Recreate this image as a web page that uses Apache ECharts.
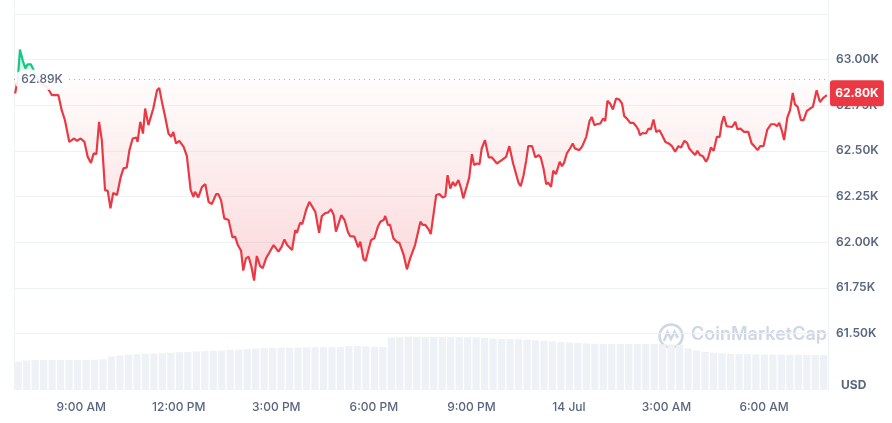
<!DOCTYPE html>
<html>
<head>
<meta charset="utf-8">
<title>BTC price 24h</title>
<script src="https://cdn.jsdelivr.net/npm/echarts@6/dist/echarts.min.js"></script>
<style>
  html, body { margin: 0; padding: 0; background: #fff; }
  #chart { width: 892px; height: 423px; }
</style>
</head>
<body>
<div id="chart"></div>
<script>
// minutes relative to 9:00 AM, 13 Jul
const priceMinutes = [
  -122, -117, -113, -108, -103, -99, -93, -88, -82, -74, -63, -54, -42, -36, -30, -22, -13, -8, -1, 6,
  12, 18, 23, 28, 33, 38, 44, 49, 54, 59, 66, 73, 78, 84, 89, 95, 102, 104, 109, 114,
  118, 124, 133, 140, 144, 149, 155, 161, 166, 170, 175, 181, 189, 195, 202, 207, 210, 216, 223, 229,
  235, 241, 249, 253, 258, 264, 272, 275, 279, 284, 289, 295, 299, 304, 309, 314, 319, 324, 330, 335,
  341, 347, 355, 364, 370, 375, 380, 389, 395, 398, 404, 408, 415, 421, 424, 432, 435, 439, 444, 450,
  456, 461, 466, 470, 480, 486, 492, 496, 504, 511, 515, 521, 525, 530, 535, 541, 547, 552, 558, 561,
  566, 570, 576, 583, 587, 595, 601, 607, 616, 626, 630, 635, 641, 645, 655, 661, 667, 672, 676, 681,
  686, 690, 696, 701, 705, 712, 716, 721, 725, 730, 735, 739, 745, 752, 758, 767, 776, 784, 787, 790,
  797, 803, 807, 811, 816, 821, 825, 832, 838, 844, 848, 853, 858, 862, 867, 871, 876, 883, 887, 891,
  896, 902, 907, 911, 919, 924, 932, 938, 942, 947, 951, 958, 963, 967, 971, 976, 981, 987, 993, 998,
  1002, 1007, 1013, 1019, 1024, 1028, 1031, 1036, 1042, 1047, 1051, 1056, 1061, 1067, 1071, 1078, 1084, 1090, 1096, 1102,
  1107, 1113, 1118, 1122, 1129, 1133, 1137, 1142, 1147, 1153, 1157, 1162, 1167, 1173, 1178, 1182, 1186, 1191, 1201, 1207,
  1211, 1216, 1223, 1231, 1237, 1242, 1248, 1253, 1259, 1266, 1273, 1279, 1284, 1288, 1293, 1297, 1303, 1308, 1313, 1317,
  1322, 1328, 1333, 1339, 1345, 1350, 1357, 1363, 1370, 1376
];

// BTC price in thousand USD
const priceValues = [
  62.814, 62.891, 63.055, 62.996, 62.952, 62.974, 62.974, 62.945, 62.891, 62.870, 62.850, 62.805, 62.805, 62.723, 62.668, 62.549, 62.568, 62.555, 62.568, 62.549,
  62.467, 62.434, 62.486, 62.482, 62.659, 62.559, 62.285, 62.281, 62.185, 62.270, 62.258, 62.358, 62.404, 62.409, 62.504, 62.568, 62.573, 62.549, 62.659, 62.595,
  62.732, 62.641, 62.732, 62.832, 62.845, 62.768, 62.686, 62.595, 62.577, 62.604, 62.541, 62.555, 62.522, 62.471, 62.285, 62.248, 62.276, 62.245, 62.303, 62.318,
  62.221, 62.208, 62.263, 62.263, 62.230, 62.130, 62.121, 62.112, 62.026, 62.030, 61.984, 61.953, 61.844, 61.911, 61.920, 61.866, 61.789, 61.924, 61.869, 61.857,
  61.911, 61.942, 61.984, 61.948, 61.975, 62.015, 61.984, 61.957, 62.066, 62.051, 62.106, 62.099, 62.176, 62.221, 62.230, 62.166, 62.158, 62.051, 62.143, 62.158,
  62.163, 62.180, 62.148, 62.057, 62.148, 62.121, 62.057, 62.033, 62.030, 61.972, 62.002, 61.906, 61.898, 61.957, 62.012, 62.021, 62.081, 62.112, 62.121, 62.143,
  62.094, 62.094, 62.021, 61.999, 61.997, 61.930, 61.851, 61.911, 61.984, 62.112, 62.094, 62.094, 62.070, 62.044, 62.258, 62.263, 62.245, 62.252, 62.367, 62.294,
  62.330, 62.307, 62.340, 62.294, 62.240, 62.312, 62.355, 62.482, 62.422, 62.431, 62.427, 62.513, 62.559, 62.464, 62.464, 62.431, 62.449, 62.467, 62.477, 62.526,
  62.431, 62.367, 62.325, 62.307, 62.362, 62.445, 62.526, 62.526, 62.464, 62.477, 62.464, 62.404, 62.318, 62.325, 62.303, 62.391, 62.373, 62.440, 62.416, 62.434,
  62.486, 62.513, 62.541, 62.513, 62.504, 62.522, 62.577, 62.664, 62.686, 62.641, 62.646, 62.650, 62.677, 62.664, 62.774, 62.759, 62.727, 62.787, 62.781, 62.759,
  62.690, 62.677, 62.653, 62.653, 62.635, 62.617, 62.586, 62.598, 62.595, 62.623, 62.617, 62.672, 62.604, 62.613, 62.591, 62.549, 62.541, 62.526, 62.495, 62.526,
  62.519, 62.555, 62.544, 62.513, 62.489, 62.477, 62.500, 62.477, 62.471, 62.440, 62.464, 62.519, 62.500, 62.577, 62.577, 62.653, 62.690, 62.635, 62.631, 62.659,
  62.617, 62.623, 62.604, 62.604, 62.541, 62.526, 62.504, 62.526, 62.526, 62.617, 62.646, 62.646, 62.635, 62.653, 62.609, 62.559, 62.683, 62.723, 62.817, 62.755,
  62.741, 62.668, 62.668, 62.719, 62.732, 62.741, 62.832, 62.768, 62.792, 62.805
];

// 24h volume, relative units (one bar per 15 min)
const volumeValues = [
  28.3, 29.5, 30, 30, 30, 30, 30, 30, 30, 30.2, 30.7, 33.5, 34.5, 35.3, 35.7, 36.2, 36.5, 36.8, 37.2, 37.7,
  38, 38.5, 38.9, 39.2, 39.5, 40, 40.5, 41, 41.5, 42, 42.2, 42.3, 42.4, 42.5, 42.6, 42.7, 42.7, 42.8, 43, 43.8,
  43.8, 43.6, 43, 43, 52.5, 52.7, 53.3, 53.2, 53, 53, 53, 52.8, 52.8, 52.7, 52.6, 52, 51.2, 51, 51, 50.8,
  50.3, 49.7, 49.2, 48.6, 48, 47.5, 47, 46.5, 46.2, 46, 46, 46, 46, 46, 46, 46, 45.8, 45.6, 45.2, 41.5,
  39.5, 38, 37.2, 36.6, 36.2, 36, 35.8, 35.6, 35.5, 35.4, 35.3, 35.2, 35.1, 35, 35, 35
];

const openPrice = 62.89;
const xTickMinutes = [0, 180, 360, 540, 720, 900, 1080, 1260];
const xTickLabels = ['9:00 AM', '12:00 PM', '3:00 PM', '6:00 PM', '9:00 PM', '14 Jul', '3:00 AM', '6:00 AM'];

const RED = '#ea3943';
const GREEN = '#16c784';
const GREY = '#58667e';
const GRID_LINE = '#eff2f5';

const chart = echarts.init(document.getElementById('chart'));

// green above the opening price, red below: split the gradients at that level
const hi = Math.max(...priceValues);
const lo = Math.min(...priceValues);
const split = (hi - openPrice) / (hi - lo);
const last = priceValues[priceValues.length - 1];

chart.setOption({
  animation: false,
  textStyle: { fontFamily: 'Inter, Roboto, sans-serif' },
  grid: [
    { left: 14, right: 64, top: 14, bottom: 44 },
    { left: 14, right: 64, top: 330, bottom: 33 }
  ],
  xAxis: [
    {
      gridIndex: 0,
      type: 'value',
      min: -124,
      max: 1378,
      axisLine: { show: false },
      axisTick: { show: false },
      splitLine: { show: false },
      axisLabel: {
        customValues: xTickMinutes,
        margin: 22,
        color: GREY,
        fontSize: 12,
        fontWeight: 500,
        formatter: v => xTickLabels[xTickMinutes.indexOf(v)] || ''
      }
    },
    {
      gridIndex: 1,
      type: 'category',
      data: volumeValues.map((_, i) => i),
      show: false
    }
  ],
  yAxis: [
    {
      gridIndex: 0,
      type: 'value',
      position: 'right',
      min: 61.25,
      max: 63.25,
      interval: 0.25,
      axisLine: { show: false },
      axisTick: { show: false },
      splitLine: { showMinLine: false, lineStyle: { color: GRID_LINE, width: 1 } },
      axisLabel: {
        margin: 8,
        color: GREY,
        fontSize: 12,
        fontWeight: 600,
        formatter: v => (v <= 61.25 || v >= 63.25) ? '' : v.toFixed(2) + 'K'
      }
    },
    {
      gridIndex: 1,
      type: 'value',
      min: 0,
      max: 60,
      show: false
    }
  ],
  series: [
    {
      type: 'bar',
      xAxisIndex: 1,
      yAxisIndex: 1,
      data: volumeValues,
      barCategoryGap: '15%',
      itemStyle: { color: '#eef1f5' },
      silent: true
    },
    {
      type: 'line',
      xAxisIndex: 0,
      yAxisIndex: 0,
      data: priceMinutes.map((m, i) => [m, priceValues[i]]),
      showSymbol: false,
      z: 3,
      lineStyle: {
        width: 2.2,
        color: new echarts.graphic.LinearGradient(0, 0, 0, 1, [
          { offset: 0, color: GREEN },
          { offset: split, color: GREEN },
          { offset: split, color: RED },
          { offset: 1, color: RED }
        ])
      },
      areaStyle: {
        origin: openPrice,
        color: new echarts.graphic.LinearGradient(0, 0, 0, 1, [
          { offset: 0, color: 'rgba(22,199,132,0.45)' },
          { offset: split, color: 'rgba(22,199,132,0.08)' },
          { offset: split, color: 'rgba(234,57,67,0.02)' },
          { offset: 1, color: 'rgba(234,57,67,0.28)' }
        ])
      },
      markLine: {
        silent: true,
        symbol: 'none',
        label: { show: false },
        lineStyle: { type: [1, 4], color: '#a6b0c3', width: 1 },
        data: [{ yAxis: openPrice }]
      },
      markPoint: {
        silent: true,
        data: [
          {
            coord: [-124, openPrice],
            symbol: 'roundRect',
            symbolSize: [52, 20],
            symbolOffset: [28, 0],
            itemStyle: { color: 'rgba(255,255,255,0.9)' },
            label: {
              show: true,
              formatter: openPrice.toFixed(2) + 'K',
              color: GREY,
              fontSize: 12,
              fontWeight: 500
            }
          },
          {
            coord: [priceMinutes[priceMinutes.length - 1], last],
            symbol: 'path://M3,0 H51 Q54,0 54,3 V23 Q54,26 51,26 H3 Q0,26 0,23 V3 Q0,0 3,0 Z',
            symbolKeepAspect: false,
            symbolSize: [54, 26],
            symbolOffset: [30, -2],
            itemStyle: { color: RED },
            label: {
              show: true,
              formatter: last.toFixed(2) + 'K',
              color: '#fff',
              fontSize: 12,
              fontWeight: 700
            }
          }
        ]
      }
    }
  ],
  graphic: [
    { type: 'line', silent: true, shape: { x1: 14.5, y1: 0, x2: 14.5, y2: 390 }, style: { stroke: GRID_LINE, lineWidth: 1 } },
    { type: 'line', silent: true, shape: { x1: 828.5, y1: 0, x2: 828.5, y2: 390 }, style: { stroke: GRID_LINE, lineWidth: 1 } },
    {
      type: 'group',
      left: 657,
      top: 322,
      silent: true,
      children: [
        { type: 'circle', shape: { cx: 13, cy: 13, r: 11.5 }, style: { fill: 'none', stroke: '#cfd6e4', lineWidth: 2.5 } },
        { type: 'polyline', shape: { points: [[6, 18], [9.5, 9], [13, 16], [16.5, 9], [20, 15]] }, style: { fill: 'none', stroke: '#cfd6e4', lineWidth: 2.5 } },
        { type: 'text', x: 33, y: 3, style: { text: 'CoinMarketCap', fill: '#cfd6e4', font: '600 18px Inter, sans-serif' } }
      ]
    },
    { type: 'text', left: 841, top: 379, style: { text: 'USD', fill: GREY, font: '700 12px Inter, sans-serif' } }
  ]
});
</script>
</body>
</html>
